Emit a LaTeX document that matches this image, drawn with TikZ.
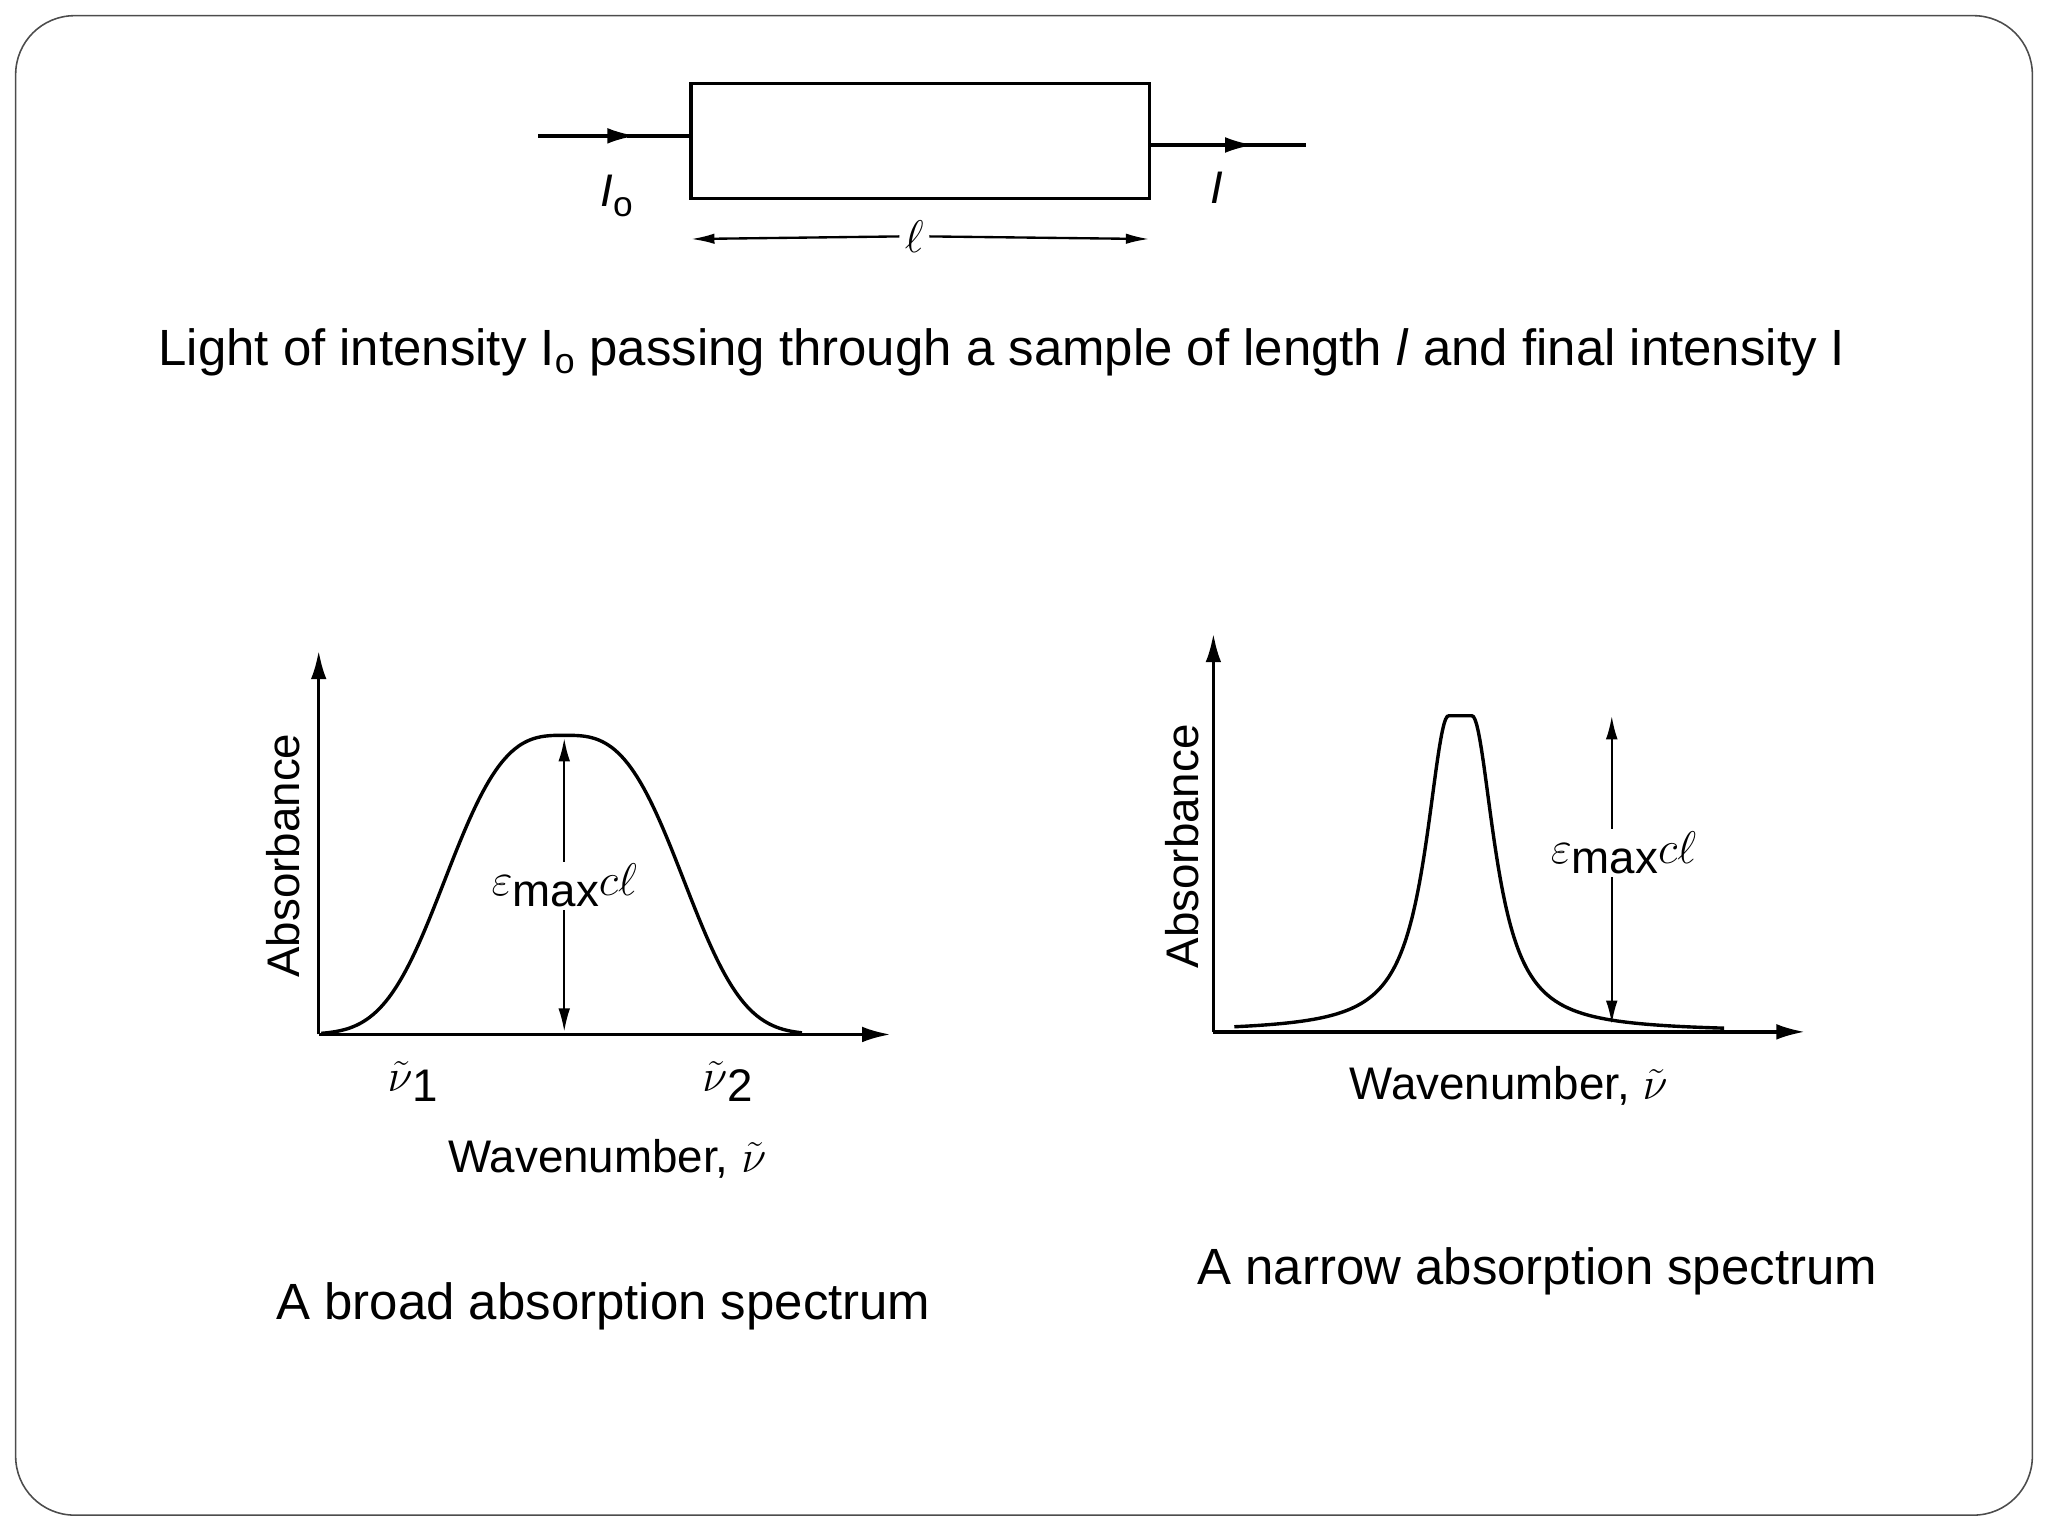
\RequirePackage{fix-cm}
\documentclass[tikz,border=0pt]{standalone}
\usepackage{fontspec}
\setmainfont{Liberation Sans}
\usetikzlibrary{arrows.meta}
\begin{document}
\begin{tikzpicture}[x=1pt,y=-1pt,line width=2.6pt,
  tip/.style={-{Latex[length=22pt,width=12pt]}},
  dtip/.style={{Latex[length=18pt,width=9pt]}-{Latex[length=18pt,width=9pt]}},
  big/.style={font=\fontsize{39}{46}\selectfont},
  lab/.style={font=\fontsize{35}{42}\selectfont}]
\useasboundingbox (0,0) rectangle (1568,1176);
\draw[line width=1.2pt,rounded corners=45pt,color=black!70] (12,12) rectangle (1556,1160);
% top sample
\node[draw,minimum width=351pt,minimum height=88pt,inner sep=0,line width=2.6pt] (box) at (704.5,108) {};
\draw[tip] (412,104) -- (487,104);
\draw (480,104) -- (box.west|-0,104);
\draw[tip] (box.east|-0,111) -- (960,111);
\draw (950,111) -- (1000,111);
\node[lab] (io) at (472,150) {\textit{I}\raisebox{-7pt}{\fontsize{27}{27}\selectfont o}};
\node[lab] (iout) at (932,144) {\textit{I}};
\node[lab,inner sep=3pt] (ell) at (700,181) {$\ell$};
\draw[line width=1.8pt,-{Latex[length=18pt,width=8pt]}] (ell.west) -- (529,183);
\draw[line width=1.8pt,-{Latex[length=18pt,width=8pt]}] (ell.east) -- (880,183);
\node[big] (cap) at (767,270) {Light of intensity I\textsubscript{o} passing through a sample of length \textit{l} and final intensity I};
% left plot
\coordinate (lo) at (244,792);
\draw[tip] (lo) -- (244,498);
\draw[tip] (lo) -- (682,792);
\draw plot[domain=246:614,samples=150] (\x,{792-229*exp(-(abs(\x-432)/105)^3)});
\draw[dtip,line width=1.8pt] (432,565) -- (432,790);
\node[lab,fill=white,inner sep=2pt] (e1) at (432,678) {$\varepsilon$\raisebox{-8pt}{max}$c\ell$};
\node[lab] (n1) at (316,828) {$\tilde\nu$\raisebox{-8pt}{1}};
\node[lab] (n2) at (557,828) {$\tilde\nu$\raisebox{-8pt}{2}};
\node[lab] (w1) at (465,887) {Wavenumber, $\tilde\nu$};
\node[lab,rotate=90] (a1) at (217,655) {Absorbance};
\node[big] (c1) at (462,1000) {A broad absorption spectrum};
% right plot
\coordinate (ro) at (929,790);
\draw[tip] (ro) -- (929,485);
\draw[tip] (ro) -- (1382,790);
\draw plot[domain=945:1320,samples=300] (\x,{790-242/(1+(max(abs(\x-1118)-9,0)/21)^2)});
\draw[dtip,line width=1.8pt] (1234,548) -- (1234,784);
\node[lab,fill=white,inner sep=2pt] (e2) at (1243,653) {$\varepsilon$\raisebox{-8pt}{max}$c\ell$};
\node[lab] (w2) at (1155,831) {Wavenumber, $\tilde\nu$};
\node[lab,rotate=90] (a2) at (905,648) {Absorbance};
\node[big] (c2) at (1177,973) {A narrow absorption spectrum};
\end{tikzpicture}
\end{document}
